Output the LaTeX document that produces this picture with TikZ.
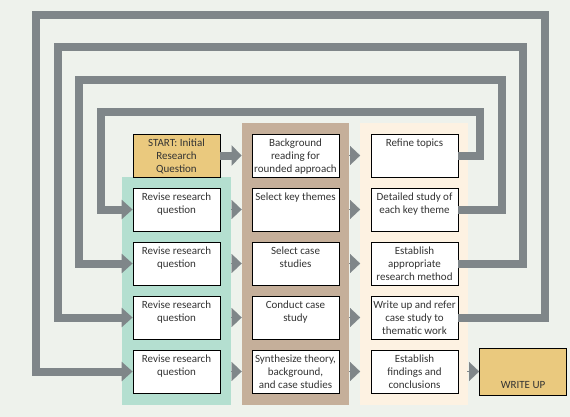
\documentclass[tikz,border=0pt]{standalone}
\usepackage{fontspec}
\setmainfont{Carlito}
\usetikzlibrary{arrows.meta}
\definecolor{bgcol}{HTML}{EEF2EC}
\definecolor{loopgray}{HTML}{7F8689}
\definecolor{goldbox}{HTML}{EAC97E}
\definecolor{mintcol}{HTML}{B4DFD0}
\definecolor{tancol}{HTML}{C5AF9A}
\definecolor{creamcol}{HTML}{FDF2E2}
\definecolor{txtcol}{HTML}{333333}
\newcommand{\bx}[1]{\parbox[c][37pt][t]{87pt}{\centering\strut#1}}
\newcommand{\bxlow}[1]{\parbox[c][37pt][b]{87pt}{\centering#1\strut}}
\tikzset{>=Stealth,every node/.style={font=\fontsize{11}{13}\selectfont,text=txtcol},
 box/.style={draw=black,fill=white,line width=.8pt,inner xsep=0pt,inner ysep=3pt},
 start/.style={box,fill=goldbox},
 feedback/.style={draw=loopgray,line width=8pt,-{Triangle[length=11pt,width=19pt]}},
 hop/.style={draw=loopgray,line width=.1pt,-{Triangle[length=10pt,width=19pt]}}}

\begin{document}
\begin{tikzpicture}[x=1pt,y=-1pt]
\fill[bgcol] (0,0) rectangle (570,417);\useasboundingbox (0,0) rectangle (570,417);
\fill[mintcol] (122,177) rectangle (231,405);\fill[tancol] (242,123) rectangle (349,405);\fill[creamcol] (360,123) rectangle (468,405);
\node[start] (start) at (176.5,155.5){\bx{START: Initial\\Research\\Question}};
\node[box] (rev1) at (176.5,209.5){\bx{Revise research\\question}};
\node[box] (rev2) at (176.5,263.5){\bx{Revise research\\question}};
\node[box] (rev3) at (176.5,317.5){\bx{Revise research\\question}};
\node[box] (rev4) at (176.5,371.5){\bx{Revise research\\question}};
\node[box] (read) at (295.5,155.5){\bx{Background\\reading for\\rounded approach}};
\node[box] (themes) at (295.5,209.5){\bx{Select key themes}};
\node[box] (cases) at (295.5,263.5){\bx{Select case\\studies}};
\node[box] (conduct) at (295.5,317.5){\bx{Conduct case\\study}};
\node[box] (synth) at (295.5,371.5){\bx{Synthesize theory,\\background,\\and case studies}};
\node[box] (refine) at (414.5,155.5){\bx{Refine topics}};
\node[box] (detail) at (414.5,209.5){\bx{Detailed study of\\each key theme}};
\node[box] (method) at (414.5,263.5){\bx{Establish\\appropriate\\research method}};
\node[box] (refer) at (414.5,317.5){\bx{Write up and refer\\case study to\\thematic work}};
\node[box] (findings) at (414.5,371.5){\bx{Establish\\findings and\\conclusions}};
\node[start] (writeup) at (523,371.5){\bxlow{WRITE UP}};
\draw[feedback,-{Triangle[length=10pt,width=20pt]},shorten >=10pt] (start) -- (read);
\foreach \a/\b in {rev1/themes,rev2/cases,rev3/conduct,rev4/synth}\draw[hop,shorten <=10.5pt,shorten >=10pt] (\a) -- (\b);
\foreach \a/\b in {read/refine,themes/detail,cases/method,conduct/refer,synth/findings}\draw[hop,shorten <=10pt,shorten >=10.5pt] (\a) -- (\b);
\draw[hop,shorten <=9pt] (findings) -- (writeup);
\draw[feedback] (refine.east) -| (480,112.5) -| (101,209.5) -- (rev1.west);
\draw[feedback] (detail.east) -| (502,80) -| (79,263.5) -- (rev2.west);
\draw[feedback] (method.east) -| (523,47.5) -| (57.5,317.5) -- (rev3.west);
\draw[feedback] (refer.east) -| (545,15) -| (36,371.5) -- (rev4.west);
\end{tikzpicture}
\end{document}
